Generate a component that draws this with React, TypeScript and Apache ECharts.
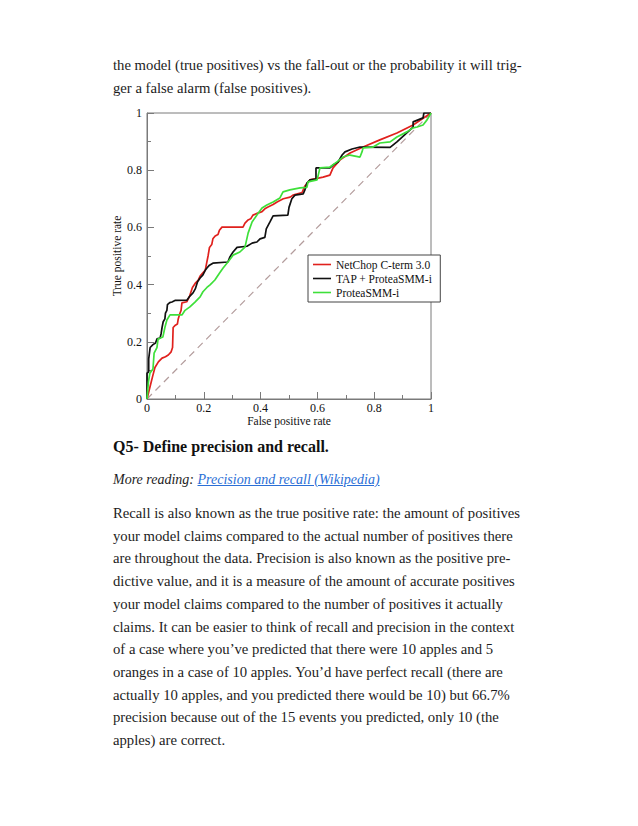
import React, { useEffect, useRef } from "react";
import * as echarts from "echarts";

// ---------- chart data ----------
const seriesNames = ["NetChop C-term 3.0", "TAP + ProteaSMM-i", "ProteaSMM-i"];
const seriesColors = ["#e0211d", "#111111", "#3ee03a"];
const axisTickLabels = ["0", "0.2", "0.4", "0.6", "0.8", "1"];

const netchop: number[][] = [
  [0, 0], [0.01, 0.04], [0.02, 0.08], [0.028, 0.11], [0.04, 0.13], [0.053, 0.143], [0.065, 0.148],
  [0.075, 0.154], [0.085, 0.165], [0.09, 0.18], [0.092, 0.25], [0.1, 0.258], [0.107, 0.262],
  [0.11, 0.28], [0.116, 0.3], [0.12, 0.31], [0.123, 0.336], [0.14, 0.34], [0.15, 0.36],
  [0.155, 0.375], [0.16, 0.39], [0.17, 0.405], [0.18, 0.415], [0.187, 0.43], [0.196, 0.44],
  [0.205, 0.45], [0.21, 0.475], [0.215, 0.5], [0.22, 0.53], [0.228, 0.54], [0.232, 0.56],
  [0.24, 0.57], [0.25, 0.575], [0.255, 0.59], [0.264, 0.601], [0.338, 0.601], [0.345, 0.615],
  [0.356, 0.626], [0.365, 0.63], [0.373, 0.643], [0.39, 0.65], [0.405, 0.655], [0.415, 0.665],
  [0.426, 0.671], [0.444, 0.68], [0.458, 0.689], [0.48, 0.7], [0.504, 0.706], [0.514, 0.713],
  [0.546, 0.722], [0.556, 0.745], [0.574, 0.766], [0.62, 0.776], [0.644, 0.783], [0.655, 0.808],
  [0.68, 0.836], [0.715, 0.86], [0.761, 0.881], [0.82, 0.906], [0.88, 0.93], [0.937, 0.958], [1, 1],
];

const tapProtea: number[][] = [
  [0, 0], [0, 0.09], [0.006, 0.095], [0.006, 0.14], [0.011, 0.18], [0.021, 0.19], [0.03, 0.196],
  [0.035, 0.21], [0.046, 0.213], [0.05, 0.23], [0.053, 0.25], [0.057, 0.27], [0.063, 0.28],
  [0.065, 0.3], [0.07, 0.31], [0.072, 0.33], [0.08, 0.337], [0.088, 0.339], [0.1, 0.345],
  [0.141, 0.346], [0.151, 0.36], [0.162, 0.371], [0.17, 0.385], [0.178, 0.41], [0.187, 0.423],
  [0.197, 0.434], [0.205, 0.45], [0.211, 0.458], [0.22, 0.468], [0.232, 0.475], [0.285, 0.479],
  [0.292, 0.497], [0.303, 0.514], [0.317, 0.53], [0.352, 0.534], [0.37, 0.545], [0.387, 0.549],
  [0.398, 0.56], [0.415, 0.565], [0.42, 0.595], [0.433, 0.619], [0.444, 0.64], [0.496, 0.643],
  [0.5, 0.67], [0.51, 0.7], [0.521, 0.713], [0.55, 0.717], [0.556, 0.731], [0.563, 0.755],
  [0.574, 0.766], [0.595, 0.769], [0.595, 0.808], [0.644, 0.808], [0.655, 0.818], [0.673, 0.829],
  [0.687, 0.853], [0.697, 0.864], [0.722, 0.874], [0.75, 0.881], [0.856, 0.88], [0.88, 0.899],
  [0.937, 0.951], [0.937, 0.969], [0.972, 0.983], [0.975, 1], [1, 1],
];

const protea: number[][] = [
  [0, 0], [0.005, 0.06], [0.01, 0.09], [0.021, 0.105], [0.025, 0.16], [0.035, 0.18], [0.039, 0.21],
  [0.056, 0.217], [0.063, 0.25], [0.07, 0.276], [0.081, 0.294], [0.123, 0.294], [0.134, 0.31],
  [0.151, 0.322], [0.169, 0.339], [0.187, 0.357], [0.197, 0.375], [0.211, 0.39], [0.222, 0.399],
  [0.239, 0.416], [0.255, 0.44], [0.268, 0.458], [0.285, 0.479], [0.303, 0.503], [0.327, 0.514],
  [0.345, 0.531], [0.356, 0.58], [0.37, 0.619], [0.387, 0.643], [0.405, 0.668], [0.422, 0.678],
  [0.444, 0.689], [0.468, 0.703], [0.479, 0.724], [0.503, 0.731], [0.539, 0.738], [0.563, 0.74],
  [0.567, 0.759], [0.599, 0.766], [0.609, 0.808], [0.644, 0.811], [0.669, 0.829], [0.69, 0.846],
  [0.715, 0.853], [0.75, 0.846], [0.757, 0.864], [0.761, 0.878], [0.796, 0.881], [0.82, 0.895],
  [0.856, 0.899], [0.88, 0.916], [0.915, 0.934], [0.937, 0.948], [0.951, 0.951], [0.972, 0.958],
  [0.986, 0.976], [1, 1],
];

const diagonal: number[][] = [[0, 0], [1, 1]];

// ---------- page text ----------
const introLines = [
  "the model (true positives) vs the fall-out or the probability it will trig-",
  "ger a false alarm (false positives).",
];
const heading = "Q5- Define precision and recall.";
const moreReadingLabel = "More reading: ";
const moreReadingLink = "Precision and recall (Wikipedia)";
const paragraphLines = [
  "Recall is also known as the true positive rate: the amount of positives",
  "your model claims compared to the actual number of positives there",
  "are throughout the data. Precision is also known as the positive pre-",
  "dictive value, and it is a measure of the amount of accurate positives",
  "your model claims compared to the number of positives it actually",
  "claims. It can be easier to think of recall and precision in the context",
  "of a case where you\u2019ve predicted that there were 10 apples and 5",
  "oranges in a case of 10 apples. You\u2019d have perfect recall (there are",
  "actually 10 apples, and you predicted there would be 10) but 66.7%",
  "precision because out of the 15 events you predicted, only 10 (the",
  "apples) are correct.",
];

const SERIF = '"Liberation Serif", "Times New Roman", serif';
const TEXT_FONT = '"Liberation Serif", serif';
const AXIS_GRAY = "#7a7a7a";

export default function App() {
  const chartRef = useRef<HTMLDivElement | null>(null);

  useEffect(() => {
    if (!chartRef.current) return;
    const chart = echarts.init(chartRef.current, undefined, { renderer: "svg" });
    const tickFmt = (v: number) => axisTickLabels[Math.round(v / 0.2)] ?? String(v);
    const axisCommon = {
      type: "value" as const,
      min: 0,
      max: 1,
      interval: 0.2,
      axisLine: { show: true, lineStyle: { color: AXIS_GRAY, width: 1 } },
      axisTick: { show: true, inside: true, length: 7, lineStyle: { color: AXIS_GRAY } },
      minorTick: { show: true, splitNumber: 2, length: 4, lineStyle: { color: AXIS_GRAY } },
      splitLine: { show: false },
      nameLocation: "middle" as const,
      nameTextStyle: { fontFamily: SERIF, fontSize: 11.5, color: "#111" },
    };
    chart.setOption({
      animation: false,
      grid: {
        left: 147,
        top: 113,
        width: 284,
        height: 286,
        show: true,
        borderColor: AXIS_GRAY,
        borderWidth: 1,
        backgroundColor: "transparent",
      },
      legend: {
        orient: "vertical",
        left: 308,
        top: 255,
        data: seriesNames,
        icon: "rect",
        itemWidth: 18,
        itemHeight: 1.6,
        itemGap: 1,
        selectedMode: false,
        backgroundColor: "#fff",
        borderColor: "#444",
        borderWidth: 1,
        borderRadius: 0,
        padding: [3, 8, 3, 5],
        textStyle: { fontFamily: SERIF, fontSize: 11.5, color: "#111", lineHeight: 13 },
      },
      xAxis: {
        ...axisCommon,
        name: "False positive rate",
        nameGap: 15,
        axisLabel: { formatter: tickFmt, fontFamily: SERIF, fontSize: 12, color: "#111", margin: 3 },
      },
      yAxis: {
        ...axisCommon,
        name: "True positive rate",
        nameGap: 24,
        axisLabel: { formatter: tickFmt, fontFamily: SERIF, fontSize: 12, color: "#111", margin: 5 },
      },
      series: [
        {
          name: "diagonal",
          type: "line",
          data: diagonal,
          symbol: "none",
          silent: true,
          lineStyle: { color: "#b39c9c", width: 1.2, type: [7, 5] },
          z: 1,
        },
        ...[netchop, tapProtea, protea].map((d, i) => ({
          name: seriesNames[i],
          type: "line",
          data: d,
          symbol: "none",
          itemStyle: { color: seriesColors[i] },
          lineStyle: { color: seriesColors[i], width: 1.7 },
          z: 2 + i,
        })),
      ],
    });
    return () => chart.dispose();
  }, []);

  const lineH = 22.7;
  const textLine = (txt: React.ReactNode, cy: number, extra: React.CSSProperties = {}, key?: any) => (
    <div
      key={key}
      style={{
        position: "absolute",
        left: 113,
        top: cy - 12,
        height: 22,
        lineHeight: "22px",
        fontSize: 14.7,
        whiteSpace: "nowrap",
        ...extra,
      }}
    >
      {txt}
    </div>
  );

  return (
    <div
      style={{
        position: "absolute",
        left: 0,
        top: 0,
        width: 638,
        height: 826,
        background: "#fff",
        fontFamily: TEXT_FONT,
        color: "#1c1c1c",
        overflow: "hidden",
      }}
    >
      <div ref={chartRef} style={{ position: "absolute", left: 0, top: 0, width: 638, height: 826 }} />
      {introLines.map((t, i) => textLine(t, 66 + i * lineH, {}, "intro" + i))}
      {textLine(heading, 448, { fontSize: 16, fontWeight: "bold", color: "#111" }, "h")}
      {textLine(
        <>
          <span>{moreReadingLabel}</span>
          <a href="#" style={{ color: "#2b6fd6", textDecoration: "underline" }}>
            {moreReadingLink}
          </a>
        </>,
        481,
        { fontStyle: "italic", fontSize: 14 },
        "more"
      )}
      {paragraphLines.map((t, i) => textLine(t, 514 + i * lineH, {}, "p" + i))}
    </div>
  );
}
